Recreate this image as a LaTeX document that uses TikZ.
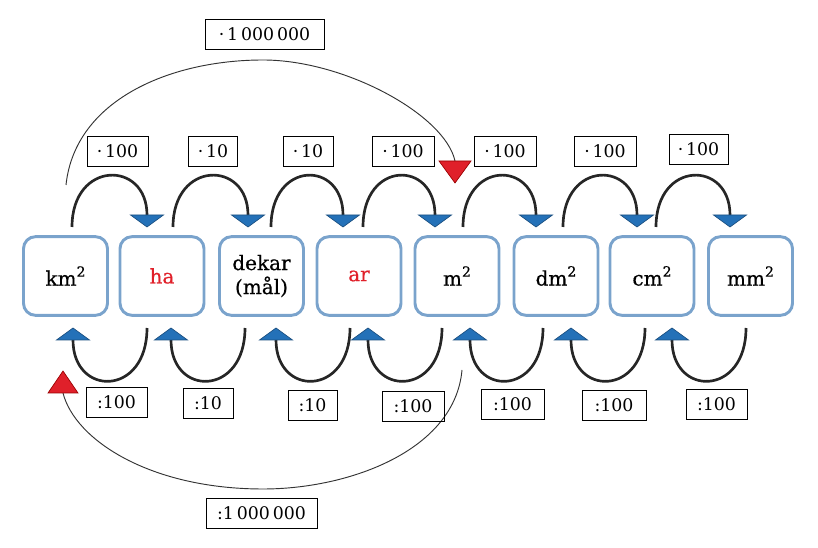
\documentclass[tikz,border=0pt]{standalone}
\usepackage{fontspec}
\setmainfont{DejaVu Serif}
\newfontfamily\unitfont[FakeBold=0.6]{DejaVu Serif}
\definecolor{boxblue}{HTML}{7AA3CC}
\definecolor{triblue}{HTML}{2471B8}
\definecolor{triedge}{HTML}{1B4F80}
\definecolor{arcgray}{HTML}{333333}
\definecolor{unitred}{HTML}{E0202A}
\newcommand\sqr{\raisebox{0.45em}{\fontsize{10.5}{10}\selectfont 2}}
\begin{document}
\begin{tikzpicture}[x=0.75pt,y=-0.75pt,
  unit/.style={draw=boxblue,line width=2.2pt,rounded corners=9pt,minimum width=63pt,minimum height=59pt,inner sep=0pt,font=\unitfont\fontsize{15}{18}\selectfont,align=center},
  lab/.style={draw=black,line width=0.6pt,inner sep=0pt,minimum height=22.5pt,font=\fontsize{13}{15}\selectfont},
  hop/.style={line width=2pt,draw=black!85},
  big/.style={line width=0.7pt,draw=arcgray},
  bluetri/.style={fill=triblue,draw=triedge,line width=0.5pt},
  redtri/.style={fill=unitred,draw=red!60!black,line width=0.5pt}]
\useasboundingbox (0,0) rectangle (818,548);

% unit boxes
\node[unit] (km) at (65.5,276) {km\sqr};
\node[unit,text=unitred] (ha) at (162,276) {ha};
\node[unit] (dekar) at (261.5,276) {dekar\\(mål)};
\node[unit,text=unitred] (ar) at (359,276) {ar};
\node[unit] (m) at (457,276) {m\sqr};
\node[unit] (dm) at (556,276) {dm\sqr};
\node[unit] (cm) at (652,276) {cm\sqr};
\node[unit] (mm) at (750.5,276) {mm\sqr};

% top hops
\foreach \s/\e [count=\i] in {72/147,173/248,271/343,363/435,463/536,563/637,656/730} {
  \coordinate (ts\i) at (\s,227);
  \coordinate (te\i) at (\e,215);
  \draw[hop] (ts\i) .. controls (\s,160) and (\e,160) .. (te\i);
  \filldraw[bluetri] (\e-16.5,215) -- (\e+16.5,215) -- (\e,227) -- cycle;
}
% bottom hops
\foreach \a/\s [count=\i] in {73/147,171/245,276/350,368/442,470/543,571/645,672/746} {
  \coordinate (bs\i) at (\s,328);
  \coordinate (be\i) at (\a,340);
  \draw[hop] (bs\i) .. controls (\s,397) and (\a,397) .. (be\i);
  \filldraw[bluetri] (\a-16.5,340) -- (\a+16.5,340) -- (\a,328) -- cycle;
}

% big arcs
\coordinate (bigs) at (66,185);
\coordinate (bige) at (455,161);
\draw[big] (bigs) .. controls (75,100) and (170,60) .. (263,60) .. controls (345,60) and (445,115) .. (bige);
\filldraw[redtri] (439,161) -- (471,161) -- (455,183) -- cycle;

\coordinate (bbs) at (462,370);
\coordinate (bbe) at (63,393);
\draw[big] (bbs) .. controls (455,450) and (350,489) .. (263,489) .. controls (150,489) and (75,440) .. (bbe);
\filldraw[redtri] (48,393) -- (78,393) -- (63,371) -- cycle;

% top labels
\node[lab,minimum width=45.75pt] (l1) at (117.5,151) {·\,100};
\node[lab,minimum width=36.75pt] (l2) at (213,151) {·\,10};
\node[lab,minimum width=37.5pt] (l3) at (308,151.5) {·\,10};
\node[lab,minimum width=46.5pt] (l4) at (403,151) {·\,100};
\node[lab,minimum width=46.5pt] (l5) at (505,151) {·\,100};
\node[lab,minimum width=46.5pt] (l6) at (605,151) {·\,100};
\node[lab,minimum width=44.25pt] (l7) at (698.5,149) {·\,100};
\node[lab,minimum width=89.25pt] (lbig) at (264.5,34) {·\,1\,000\,000};

% bottom labels
\node[lab,minimum width=45.75pt] (d1) at (116.5,402.5) {:100};
\node[lab,minimum width=37.5pt] (d2) at (208,403.5) {:10};
\node[lab,minimum width=36.75pt] (d3) at (312.5,405) {:10};
\node[lab,minimum width=46.5pt] (d4) at (413,406) {:100};
\node[lab,minimum width=47.25pt] (d5) at (512.5,404) {:100};
\node[lab,minimum width=48pt] (d6) at (614,405) {:100};
\node[lab,minimum width=45.75pt] (d7) at (716.5,404) {:100};
\node[lab,minimum width=83.25pt] (dbig) at (261.5,513) {:1\,000\,000};
\end{tikzpicture}
\end{document}
